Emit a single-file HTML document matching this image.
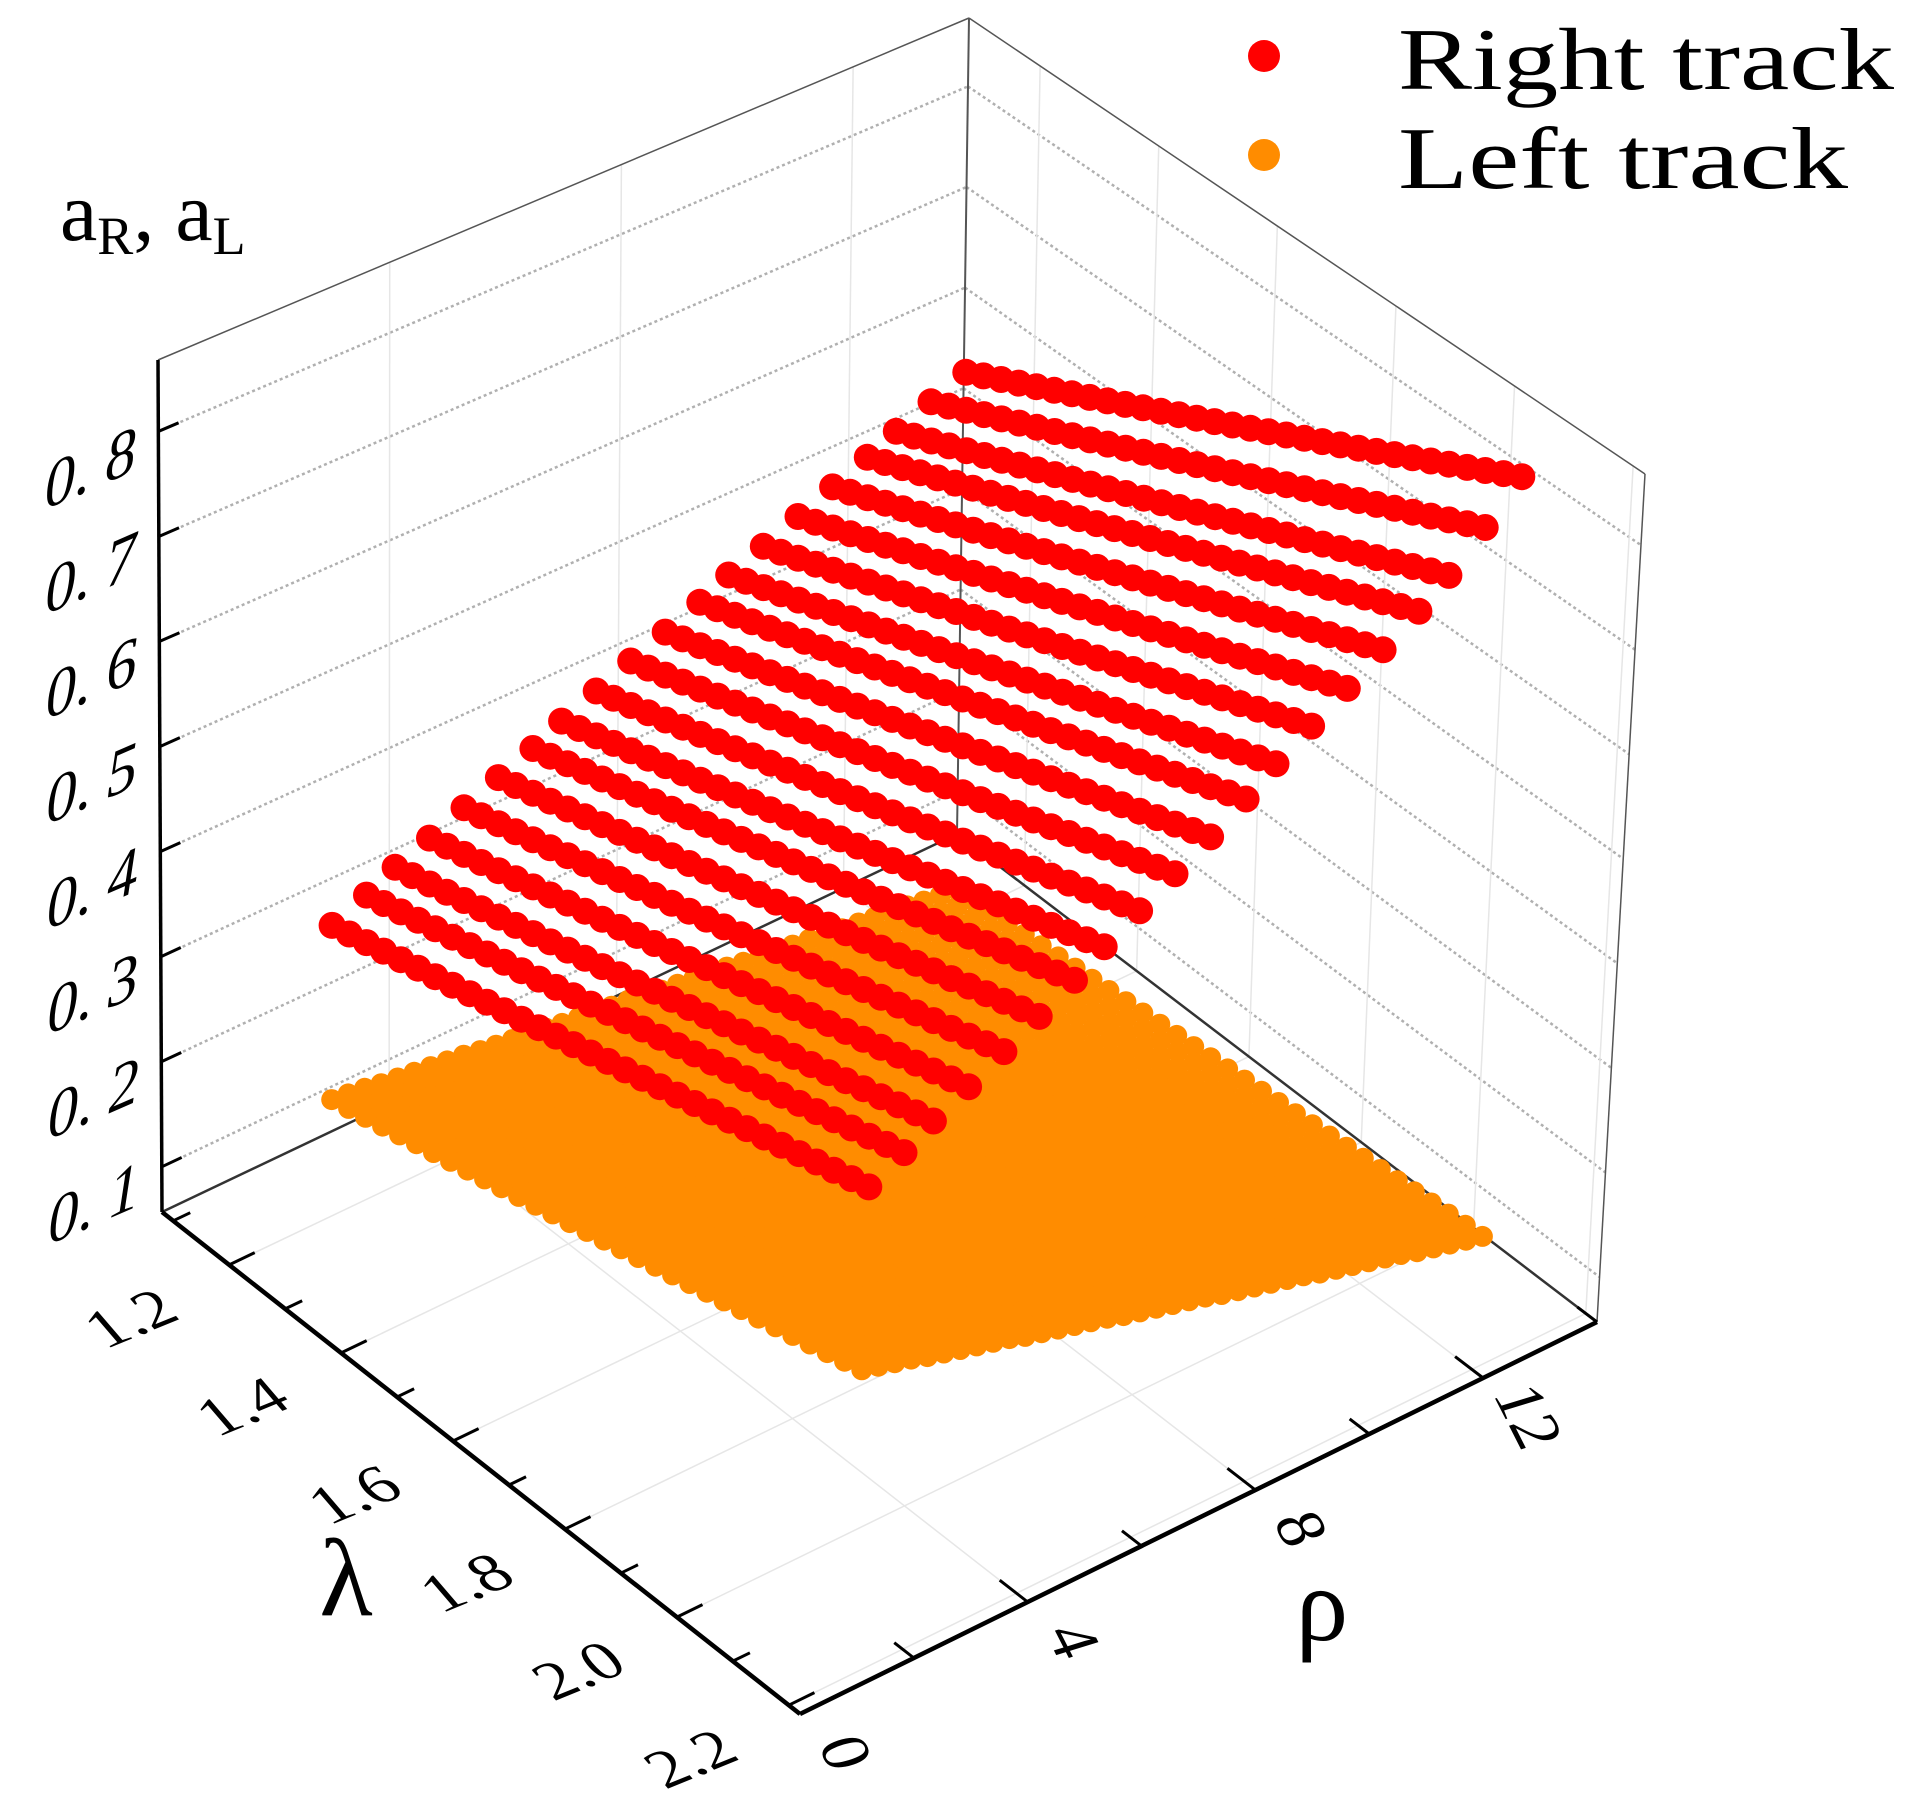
<!DOCTYPE html>
<html><head><meta charset="utf-8"><style>
html,body{margin:0;padding:0;background:#fff;}
svg{display:block;}
text{font-family:"Liberation Serif",serif;fill:#000;}
</style></head><body>
<svg id="chart" width="1906" height="1810" viewBox="0 0 1906 1810" xmlns="http://www.w3.org/2000/svg">
<g id="grid"></g>
<g id="box"></g>
<g id="orange"></g>
<g id="red"></g>
<g id="axes"></g>
<g>
 <circle cx="1264" cy="56" r="16" fill="#ff0000"/>
 <text x="1398" y="89" font-size="88" textLength="496" lengthAdjust="spacingAndGlyphs">Right track</text>
 <circle cx="1264" cy="155" r="16" fill="#ff8c00"/>
 <text x="1398" y="188" font-size="88" textLength="450" lengthAdjust="spacingAndGlyphs">Left track</text>
</g>
<text x="60" y="240" font-size="84">a<tspan font-size="54" dy="14">R</tspan><tspan dy="-14">, a</tspan><tspan font-size="54" dy="14">L</tspan></text>
<text x="346" y="1615" font-size="110" text-anchor="middle">λ</text>
<text x="1322" y="1640" font-size="105" text-anchor="middle">ρ</text>
</svg>
<script>
// ---- data ----
const lambdas=[1.20,1.23,1.26,1.29,1.32,1.35,1.38,1.41,1.44,1.47,1.50,1.53,1.56,1.59,1.62,1.65,1.68,1.71,1.74,1.77,1.80,1.83,1.86,1.89,1.92,1.95,1.98,2.01,2.04,2.07,2.10,2.13];
const rhos=[1.8,2.4,2.9,3.5,4.1,4.7,5.3,5.8,6.4,7.0,7.6,8.2,8.7,9.3,9.9,10.5,11.1,11.6,12.2,12.8];
const redZStart=[0.334,0.348,0.362,0.375,0.389,0.403,0.416,0.430,0.444,0.458,0.471,0.485,0.499,0.512,0.526,0.540,0.554,0.567,0.581,0.595];
const redZEnd=[0.461,0.478,0.495,0.512,0.530,0.548,0.567,0.586,0.605,0.625,0.645,0.666,0.687,0.708,0.729,0.751,0.773,0.795,0.826,0.860];
const orangeRhos=[1.80,2.09,2.38,2.67,2.96,3.25,3.54,3.83,4.12,4.41,4.69,4.98,5.27,5.56,5.85,6.14,6.43,6.72,7.01,7.30,7.59,7.88,8.17,8.46,8.75,9.04,9.33,9.62,9.91,10.20,10.49,10.78,11.07,11.35,11.64,11.93,12.22,12.51,12.80];
const orangeZStart=[0.168,0.166,0.164,0.161,0.159,0.157,0.155,0.153,0.151,0.148,0.146,0.144,0.142,0.140,0.137,0.135,0.133,0.131,0.129,0.127,0.124,0.122,0.120,0.118,0.116,0.113,0.111,0.109,0.107,0.105,0.102,0.100,0.098,0.096,0.094,0.092,0.089,0.087,0.085];
const orangeZEnd=[0.292,0.288,0.284,0.280,0.275,0.271,0.267,0.263,0.259,0.255,0.250,0.246,0.242,0.238,0.234,0.230,0.225,0.221,0.217,0.213,0.209,0.205,0.200,0.196,0.192,0.188,0.184,0.180,0.175,0.171,0.167,0.163,0.159,0.155,0.150,0.146,0.142,0.138,0.134];
const zTicks=[0.1,0.2,0.3,0.4,0.5,0.6,0.7,0.8];
const zTickLabels=["0. 1","0. 2","0. 3","0. 4","0. 5","0. 6","0. 7","0. 8"];
const lamTicks=[1.2,1.4,1.6,1.8,2.0,2.2];
const lamTickLabels=["1.2","1.4","1.6","1.8","2.0","2.2"];
const lamMinor=[1.1,1.2,1.3,1.4,1.5,1.6,1.7,1.8,1.9,2.0,2.1,2.2];
const rhoTicks=[0,4,8,12];
const rhoTickLabels=["0","4","8","12"];
const rhoMinor=[0,2,4,6,8,10,12,14];

// ---- projection ----
const LMIN=1.08,LMAX=2.22,RMIN=0,RMAX=14,ZMIN=0.057,ZMAX=0.868;
const BL=[162,1212],BF=[800,1714],BR=[1597,1322],BB=[957,834];
const TL=[158,360],TF=[835,829],TR=[1645,474],TB=[969,18];
function bil(a,f,r,b,u,v,i){return (1-u)*(1-v)*a[i]+u*(1-v)*f[i]+u*v*r[i]+(1-u)*v*b[i];}
function P(lam,rho,z){
 const u=(lam-LMIN)/(LMAX-LMIN),v=(rho-RMIN)/(RMAX-RMIN),w=(z-ZMIN)/(ZMAX-ZMIN);
 const bx=bil(BL,BF,BR,BB,u,v,0),by=bil(BL,BF,BR,BB,u,v,1);
 const tx=bil(TL,TF,TR,TB,u,v,0),ty=bil(TL,TF,TR,TB,u,v,1);
 return [bx+(tx-bx)*w,by+(ty-by)*w];
}
const NS="http://www.w3.org/2000/svg";
function line(g,p,q,stroke,sw,dash){
 const l=document.createElementNS(NS,'line');
 l.setAttribute('x1',p[0]);l.setAttribute('y1',p[1]);l.setAttribute('x2',q[0]);l.setAttribute('y2',q[1]);
 l.setAttribute('stroke',stroke);l.setAttribute('stroke-width',sw);
 if(dash)l.setAttribute('stroke-dasharray',dash);
 
 
 g.appendChild(l);return l;
}
const grid=document.getElementById('grid'),box=document.getElementById('box'),axes=document.getElementById('axes');
zTicks.forEach(z=>{
 const a=line(grid,P(LMIN,RMIN,z),P(LMIN,RMAX,z),'#b0b0b0',2.5,'3 3');
 
 const b=line(grid,P(LMIN,RMAX,z),P(LMAX,RMAX,z),'#b0b0b0',2.5,'3 3');
 
});
rhoTicks.forEach(r=>{
 const a=line(grid,P(LMIN,r,ZMIN),P(LMIN,r,ZMAX),'#e6e6e6',1.5);
 
 const b=line(grid,P(LMIN,r,ZMIN),P(LMAX,r,ZMIN),'#e6e6e6',1.5);
 
});
lamTicks.forEach(l=>{
 const a=line(grid,P(l,RMAX,ZMIN),P(l,RMAX,ZMAX),'#e6e6e6',1.5);
 
 const b=line(grid,P(l,RMIN,ZMIN),P(l,RMAX,ZMIN),'#e6e6e6',1.5);
 
});
line(box,P(LMIN,RMIN,ZMAX),P(LMIN,RMAX,ZMAX),'#555',1.5);
line(box,P(LMIN,RMAX,ZMAX),P(LMAX,RMAX,ZMAX),'#555',1.5);
line(box,P(LMIN,RMAX,ZMIN),P(LMIN,RMAX,ZMAX),'#555',2);
line(box,P(LMAX,RMAX,ZMIN),P(LMAX,RMAX,ZMAX),'#555',1.5);
line(box,P(LMIN,RMIN,ZMIN),P(LMIN,RMAX,ZMIN),'#333',2.5);
line(box,P(LMIN,RMAX,ZMIN),P(LMAX,RMAX,ZMIN),'#333',2.5);
function drawSeries(gid,rows,zs,ze,color,r,name){
 const g=document.getElementById(gid),pts=[];
 rows.forEach((rho,i)=>{
  lambdas.forEach((lam,j)=>{
   const z=zs[i]+(ze[i]-zs[i])*(lam-lambdas[0])/(lambdas[lambdas.length-1]-lambdas[0]);
   const depth=(lam-LMIN)/(LMAX-LMIN)-(rho/RMAX);
   pts.push([depth,P(lam,rho,z)]);
  });
 });
 pts.sort((a,b)=>a[0]-b[0]);
 pts.forEach(p=>{
  const c=document.createElementNS(NS,'circle');
  c.setAttribute('cx',p[1][0].toFixed(1));c.setAttribute('cy',p[1][1].toFixed(1));
  c.setAttribute('r',r);c.setAttribute('fill',color);
  
  
  g.appendChild(c);
 });
}
drawSeries('orange',orangeRhos,orangeZStart,orangeZEnd,'#ff8c00',10.5,'left-track-point');
drawSeries('red',rhos,redZStart,redZEnd,'#ff0000',13.5,'right-track-point');
line(axes,P(LMIN,RMIN,ZMIN),P(LMIN,RMIN,ZMAX),'#000',3.5);
line(axes,P(LMIN,RMIN,ZMIN),P(LMAX,RMIN,ZMIN),'#000',4.5);
line(axes,P(LMAX,RMIN,ZMIN),P(LMAX,RMAX,ZMIN),'#000',4.5);
function txt(s,x,y,size,tr,name){
 const t=document.createElementNS(NS,'text');
 t.textContent=s;t.setAttribute('font-size',size);t.setAttribute('font-style','italic');
 t.setAttribute('text-anchor','middle');t.setAttribute('dominant-baseline','central');
 t.setAttribute('transform',tr.replace('X',x.toFixed(1)).replace('Y',y.toFixed(1)));
 
 
 axes.appendChild(t);
}
zTicks.forEach((z,i)=>{
 const p=P(LMIN,RMIN,z),q=P(LMIN,0.35,z);
 line(axes,p,q,'#000',3);
 txt(zTickLabels[i],p[0]-68,p[1]+37,66,'matrix(0.92,-0.4,0,1,X,Y)','z-tick-label');
});
lamMinor.forEach(l=>{
 const major=lamTicks.some(t=>Math.abs(t-l)<1e-6);
 const p=P(l,RMIN,ZMIN),q=P(l,major?0.45:0.3,ZMIN);
 line(axes,p,q,'#000',3);
});
lamTicks.forEach((l,i)=>{
 const p=P(l,RMIN,ZMIN);
 txt(lamTickLabels[i],p[0]-99,p[1]+54,66,'matrix(0.93,-0.38,0.77,0.64,X,Y)','lambda-tick-label');
});
rhoMinor.forEach(r=>{
 const major=rhoTicks.indexOf(r)>=0;
 const p=P(LMAX,r,ZMIN),q=P(LMAX-(major?0.05:0.035),r,ZMIN);
 line(axes,p,q,'#000',3);
});
rhoTicks.forEach((r,i)=>{
 const p=P(LMAX,r,ZMIN);
 txt(rhoTickLabels[i],p[0]+45,p[1]+38,66,'translate(X,Y) rotate(63)','rho-tick-label');
});
</script>
</body></html>
